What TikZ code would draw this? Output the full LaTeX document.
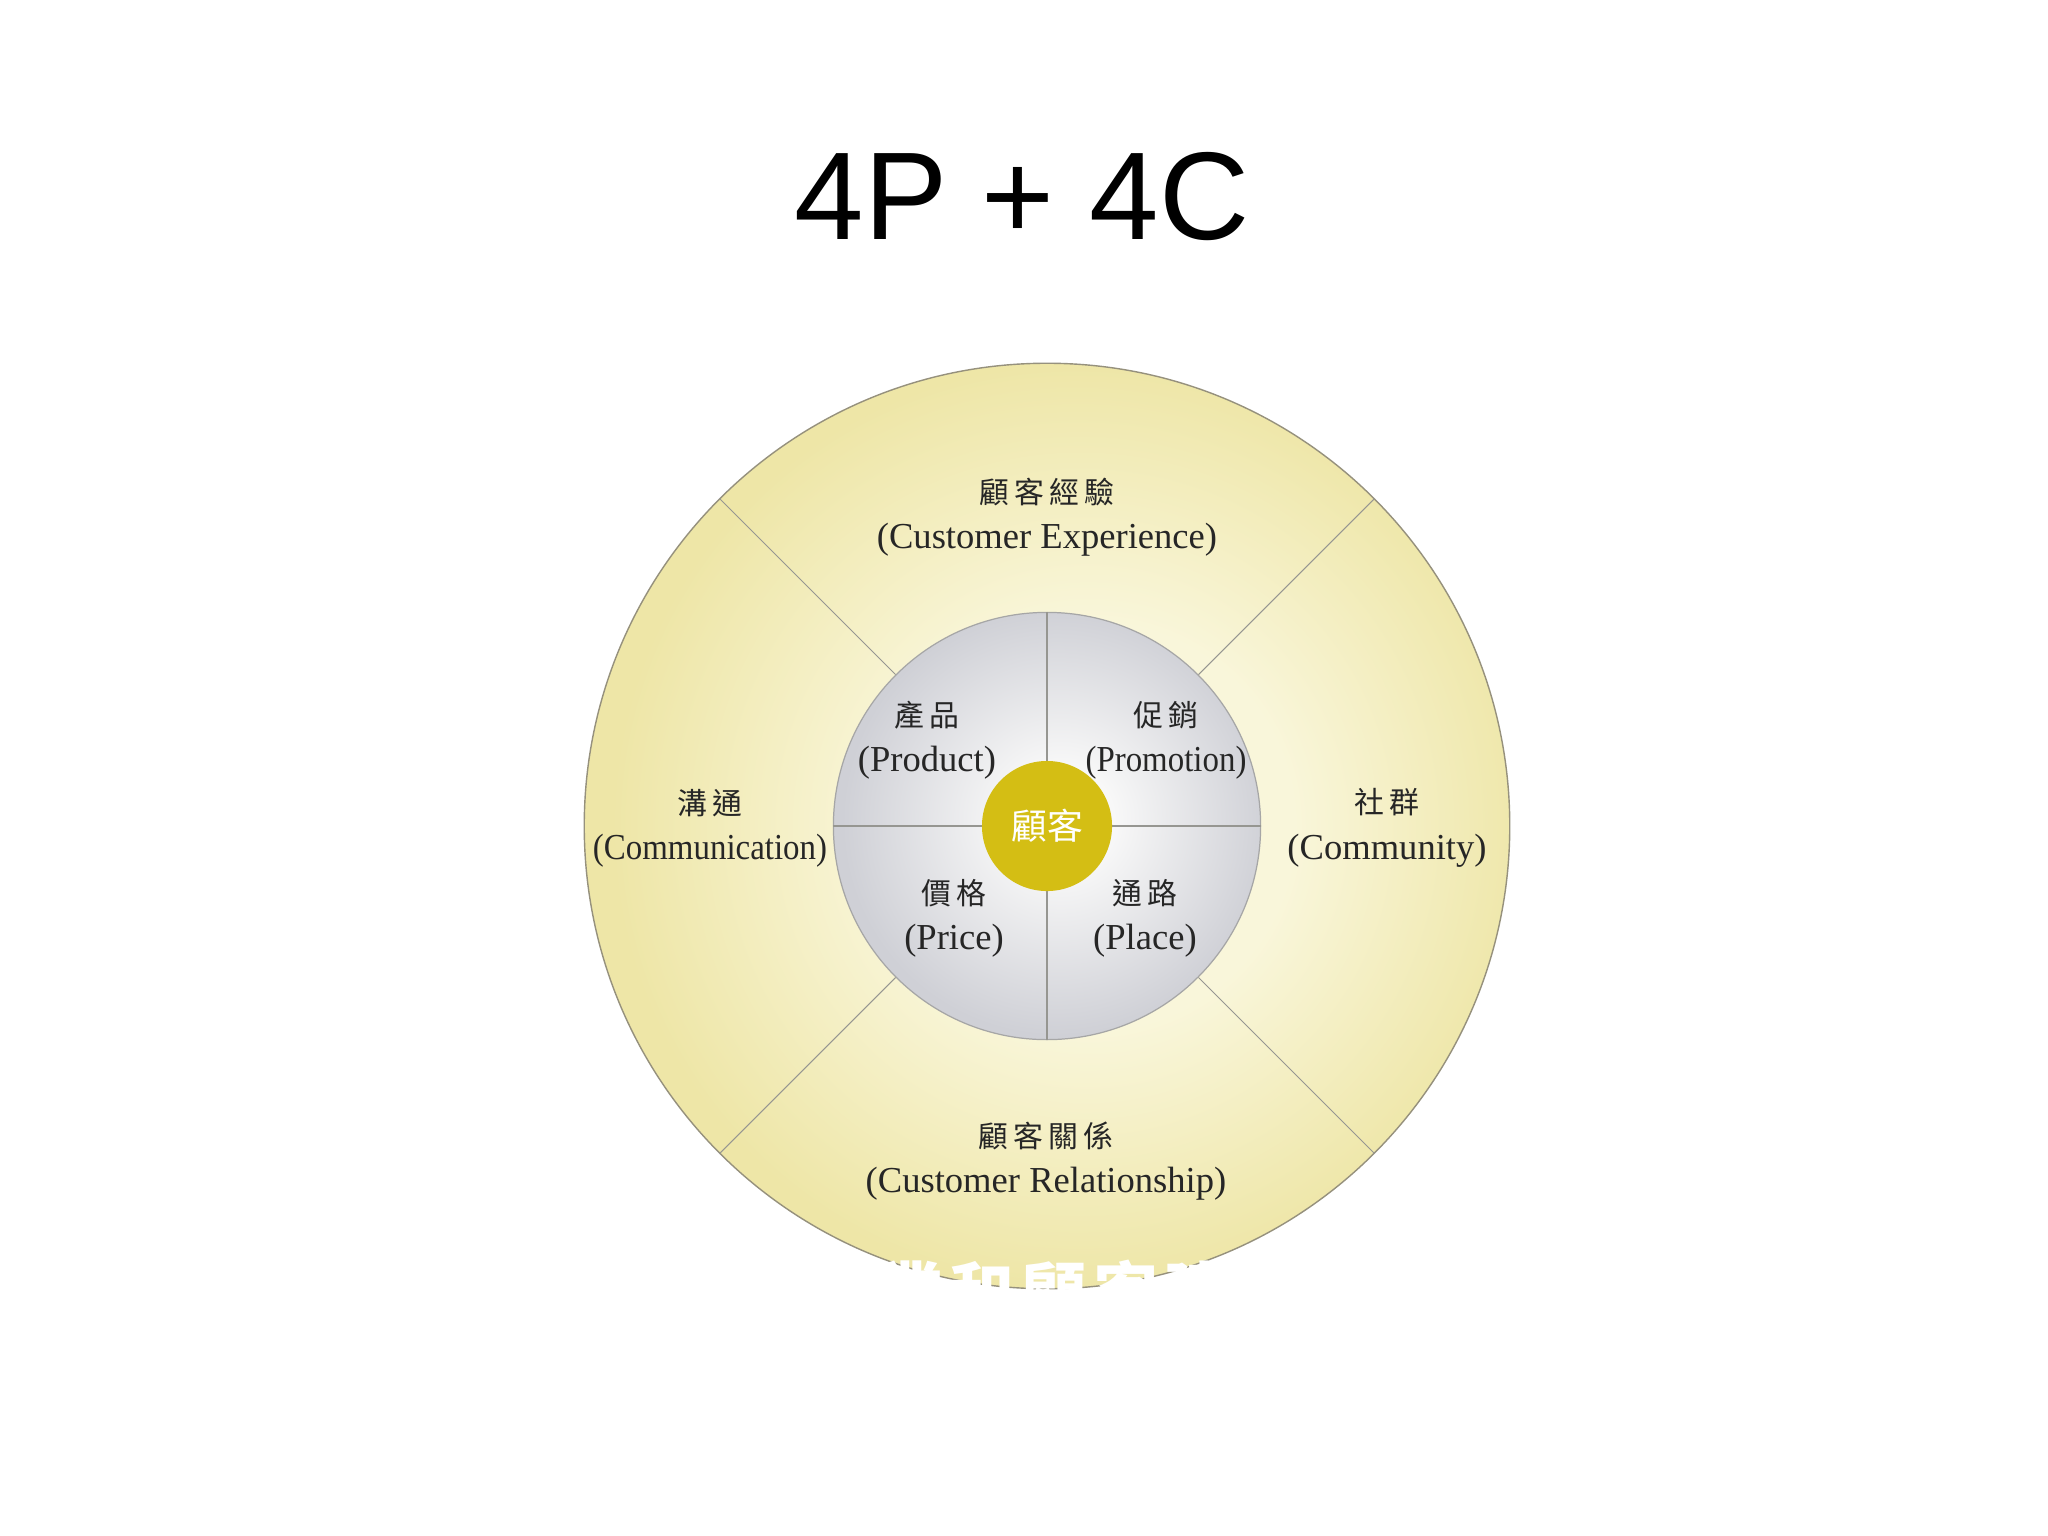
\documentclass[tikz,border=0pt]{standalone}
\usepackage{fontspec}
\setmainfont{Liberation Serif}
\newfontfamily\titlefont{Liberation Sans}
\newfontfamily\cjk{Noto Sans CJK TC}

\definecolor{ringin}{RGB}{249,246,218}
\definecolor{ringout}{RGB}{238,230,167}
\definecolor{diskin}{RGB}{248,248,248}
\definecolor{diskout}{RGB}{207,208,214}
\definecolor{hub}{RGB}{212,190,20}
\definecolor{rim}{RGB}{150,145,125}
\definecolor{spoke}{RGB}{150,150,145}

\pgfdeclareradialshading{ringshade}{\pgfpoint{3bp}{0bp}}{color(0bp)=(ringin); color(11bp)=(ringin); color(25bp)=(ringout); color(50bp)=(ringout)}
\pgfdeclareradialshading{diskshade}{\pgfpoint{2bp}{1bp}}{color(0bp)=(diskin); color(6bp)=(diskin); color(25bp)=(diskout); color(50bp)=(diskout)}

\newcommand{\cn}[1]{{\cjk\fontsize{8.5}{12.9}\selectfont #1}}
\newcommand{\narrow}[1]{\scalebox{.9}[1]{#1}}

\begin{document}
\begin{tikzpicture}[x=0.01cm,y=-0.01cm]
        \useasboundingbox[fill=white] (0,0) rectangle (2048,1536);

        \node[font=\titlefont\fontsize{35.5}{40}\selectfont, anchor=base] (title) at (1022,239) {4P + 4C};

        \begin{scope}[every node/.style={circle, inner sep=0pt}]
          \node[draw=rim, line width=.4pt, shading=ringshade, minimum size=9.25cm] (outer) at (1047,826) {};
          \node[draw=gray!70, line width=.35pt, shading=diskshade, minimum size=4.27cm] (inner) at (1047,826) {};
        \end{scope}

        \begin{scope}[every edge/.style={draw=spoke, line width=.3pt}]
          \path (inner.45)  edge (outer.45);
          \path (inner.135) edge (outer.135);
          \path (inner.225) edge (outer.225);
          \path (inner.315) edge (outer.315);
          \path (inner.north) edge (inner.south);
          \path (inner.west)  edge (inner.east);
        \end{scope}

        \node[circle, inner sep=0pt, fill=hub, minimum size=1.3cm, text=white,
              font=\cjk\fontsize{10.2}{12}\selectfont] (hub) at (1047,826) {顧客};

        \begin{scope}[every node/.style={align=center, text=black!85, font=\fontsize{10.4}{12.9}\selectfont}]
          \node (exper) at (1047,517)  {\cn{顧\,客\,經\,驗}\\(Customer Experience)};
          \node (relat) at (1046,1161) {\cn{顧\,客\,關\,係}\\(Customer Relationship)};
          \node (commu) at (710,828)   {\cn{溝\,通}\\\narrow{(Communication)}};
          \node (commy) at (1387,828)  {\cn{社\,群}\\(Community)};
          \node (prod)  at (927,740)   {\cn{產\,品}\\(Product)};
          \node (promo) at (1166,740)  {\cn{促\,銷}\\\narrow{(Promotion)}};
          \node (price) at (954,918)   {\cn{價\,格}\\(Price)};
          \node (place) at (1145,918)  {\cn{通\,路}\\(Place)};
        \end{scope}

        \node[anchor=base, text=white, font=\cjk\bfseries\fontsize{18.5}{22}\selectfont] (slogan) at (1054,1316)
          {業\kern.1em 和\kern.1em 顧\kern.1em 客\kern.1em 建};

\end{tikzpicture}
\end{document}
